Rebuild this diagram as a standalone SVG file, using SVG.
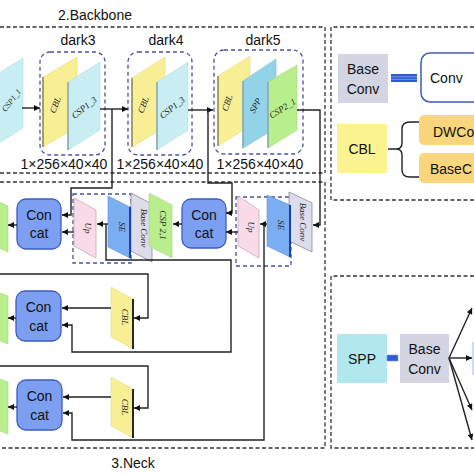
<svg xmlns="http://www.w3.org/2000/svg" width="474" height="474" viewBox="0 0 474 474">
<defs>
<marker id="ah" viewBox="0 0 10 10" refX="10" refY="5" markerWidth="7" markerHeight="6" orient="auto" markerUnits="userSpaceOnUse"><path d="M0,0 L10,5 L0,10 z" fill="#111"/></marker>
<style>
.sec{fill:none;stroke:#333;stroke-width:1.3;stroke-dasharray:4 2.5}
.grp{fill:none;stroke:#4b50a0;stroke-width:1.3;stroke-dasharray:4 3}
.ln{fill:none;stroke:#222;stroke-width:1.4}
.ar{marker-end:url(#ah)}
.t{font-family:"Liberation Sans",Arial,sans-serif;font-size:14px;fill:#111}
.tm{text-anchor:middle}
.pt{font-family:"Liberation Serif","Times New Roman",serif;font-style:italic;font-size:9px;fill:#222;text-anchor:middle}
.yel{fill:#f8ee94;stroke:#e6dc88;stroke-width:0.6}
.cya{fill:#c8eef3;stroke:#b4dde4;stroke-width:0.6}
.spp{fill:#92d3e8;stroke:#7cbcd2;stroke-width:0.6}
.grn{fill:#b8ef8c;stroke:#a2d87a;stroke-width:0.6}
.pnk{fill:#f9dbe7;stroke:#c8aab8;stroke-width:0.8}
.se{fill:#7aaef0;stroke:#5e90d8;stroke-width:0.6}
.bcp{fill:#dcdcea;stroke:#8c8c9c;stroke-width:0.8}
.edgeY{stroke:#8f8a62;stroke-width:1.6}
.edgeC{stroke:#8fa8ae;stroke-width:1.6}
.edgeK{stroke:#111;stroke-width:1.8}
.edgeB{stroke:#1e3fa8;stroke-width:2}
.cc{fill:#7d9ff2;stroke:#3c5cc0;stroke-width:1.3}
</style>
</defs>
<rect width="474" height="474" fill="#fff"/>

<g id="sections">
<path class="sec" d="M0,27 H325 V173 M0,173 H325"/>
<path class="sec" d="M0,182 H325 V448 H0"/>
<path class="sec" d="M474,27 H331 V200 H474"/>
<path class="sec" d="M474,276 H331 V448 H474"/>
<text class="t tm" x="95" y="20">2.Backbone</text>
<text class="t tm" x="133" y="468">3.Neck</text>
</g>

<g id="csp1_1">
<polygon class="cya" points="-12,80 23,58 23,128 -12,150"/>
<text class="pt" style="font-size:8px" transform="translate(13.5,102) rotate(-52)">CSP1_1</text>
</g>

<g id="dark3">
<rect class="grp" x="40" y="52" width="65" height="103" rx="10"/>
<text class="t tm" x="78" y="45">dark3</text>
<polygon class="yel" points="43,77 77,57 77,127 43,147"/>
<line class="edgeY" x1="43" y1="77" x2="43" y2="147"/>
<text class="pt" transform="translate(58,106) rotate(-68)">CBL</text>
<polygon class="cya" points="68,82 100,62 100,130 68,150"/>
<line class="edgeC" x1="68" y1="82" x2="68" y2="150"/>
<text class="pt" transform="translate(86,110) rotate(-38)">CSP1_3</text>
<text class="t tm" x="64" y="169">1×256×40×40</text>
</g>

<g id="dark4">
<rect class="grp" x="128" y="52" width="64" height="103" rx="10"/>
<text class="t tm" x="166" y="45">dark4</text>
<polygon class="yel" points="132,78 165,57 165,127 132,147"/>
<line class="edgeY" x1="132" y1="78" x2="132" y2="147"/>
<text class="pt" transform="translate(146,106) rotate(-68)">CBL</text>
<polygon class="cya" points="157,82 188,62 188,130 157,150"/>
<line class="edgeC" x1="157" y1="82" x2="157" y2="150"/>
<text class="pt" transform="translate(174,110) rotate(-38)">CSP1_3</text>
<text class="t tm" x="160" y="169">1×256×40×40</text>
</g>

<g id="dark5">
<rect class="grp" x="214" y="50" width="89" height="104" rx="10"/>
<text class="t tm" x="263" y="45">dark5</text>
<polygon class="yel" points="218,76 250,56 250,126 218,146"/>
<line class="edgeY" x1="218" y1="76" x2="218" y2="146"/>
<text class="pt" transform="translate(230,104) rotate(-70)">CBL</text>
<polygon class="spp" points="243,81 276,59 276,128 243,148"/>
<line class="edgeC" x1="243" y1="81" x2="243" y2="148"/>
<text class="pt" transform="translate(258,107) rotate(-60)">SPP</text>
<polygon class="grn" points="268,82 297,65 297,130 268,148"/>
<line class="edgeC" x1="268" y1="82" x2="268" y2="148"/>
<text class="pt" transform="translate(284,111) rotate(-32)">CSP2_1</text>
<text class="t tm" x="260" y="169">1×256×40×40</text>
</g>

<g id="neck-left-panels">
<polygon class="grn" points="-14,196 8,206 8,252 -14,242"/>
<polygon class="grn" points="-14,288 8,296 8,344 -14,336"/>
<polygon class="grn" points="-14,374 8,382 8,434 -14,426"/>
</g>

<g id="concat1">
<rect class="cc" x="17" y="199" width="44" height="50" rx="9"/>
<text class="t tm" x="39" y="220">Con</text>
<text class="t tm" x="39" y="238">cat</text>
</g>

<g id="up-se-1">
<rect class="grp" x="73" y="194" width="58" height="69"/>
<polygon class="pnk" points="74,198 96,210 96,258 74,246"/>
<text class="pt" transform="translate(85,228) rotate(90)">Up</text>
<polygon class="bcp" points="131,193 152,204 152,262 131,251"/>
<text class="pt" transform="translate(141,228) rotate(90)">Base Conv</text>
<polygon class="se" points="108,196 130,207 130,258 108,247"/>
<line class="edgeB" x1="130" y1="207" x2="130" y2="258"/>
<text class="pt" transform="translate(119,227) rotate(90)">SE</text>
<polygon class="grn" points="149,193 172,205 172,258 149,246"/>
<text class="pt" transform="translate(160,225) rotate(90)">CSP 2,1</text>
</g>

<g id="concat2">
<rect class="cc" x="182" y="199" width="44" height="49" rx="9"/>
<text class="t tm" x="204" y="220">Con</text>
<text class="t tm" x="204" y="238">cat</text>
</g>

<g id="up-se-2">
<rect class="grp" x="236" y="197" width="55" height="69"/>
<polygon class="pnk" points="238,196 259,210 259,258 238,246"/>
<text class="pt" transform="translate(248,227) rotate(90)">Up</text>
<polygon class="bcp" points="289,192 312,203 312,252 289,241"/>
<text class="pt" transform="translate(300,222) rotate(90)">Base Conv</text>
<polygon class="se" points="267,195 290,205 290,257 267,246"/>
<line class="edgeB" x1="290" y1="205" x2="290" y2="257"/>
<text class="pt" transform="translate(278,225) rotate(90)">SE</text>
</g>

<g id="row2">
<rect class="cc" x="16" y="291" width="45" height="50" rx="9"/>
<text class="t tm" x="38.5" y="312">Con</text>
<text class="t tm" x="38.5" y="331">cat</text>
<polygon class="yel" points="111,287 133,299 133,349 111,337"/>
<line class="edgeK" x1="133" y1="299" x2="133" y2="349"/>
<text class="pt" transform="translate(122,317) rotate(90)">CBL</text>
</g>

<g id="row3">
<rect class="cc" x="17" y="380" width="45" height="50" rx="9"/>
<text class="t tm" x="39.5" y="401">Con</text>
<text class="t tm" x="39.5" y="420">cat</text>
<polygon class="yel" points="111,377 133,389 133,438 111,426"/>
<line class="edgeK" x1="133" y1="389" x2="133" y2="438"/>
<text class="pt" transform="translate(122,407) rotate(90)">CBL</text>
</g>

<g id="legend-baseconv">
<rect x="338" y="54" width="50" height="49" fill="#d3d5e3"/>
<text class="t tm" x="363" y="74">Base</text>
<text class="t tm" x="363" y="94">Conv</text>
<rect x="391" y="74" width="26" height="8" fill="#2d5ad6"/>
<line x1="391" y1="76.7" x2="417" y2="76.7" stroke="#8fa8f0" stroke-width="0.8"/>
<line x1="391" y1="79.3" x2="417" y2="79.3" stroke="#8fa8f0" stroke-width="0.8"/>
<rect x="421" y="53" width="70" height="49" rx="9" fill="#fff" stroke="#3a5cc4" stroke-width="1.5"/>
<text class="t" x="430" y="83">Conv</text>
</g>

<g id="legend-cbl">
<rect x="337" y="124" width="50" height="49" fill="#fbf38f"/>
<text class="t tm" x="362" y="154">CBL</text>
<path class="ln" d="M388,149 H396 Q402,149 402,143 V129 Q402,122 410,122 H420 M396,149 Q402,149 402,155 V170 Q402,177 410,177 H420"/>
<rect x="419" y="115" width="70" height="30" rx="5" fill="#f9d57b"/>
<text class="t" x="433" y="137">DWCo</text>
<rect x="419" y="153" width="70" height="30" rx="5" fill="#f9d57b"/>
<text class="t" x="430" y="174">BaseC</text>
</g>

<g id="legend-spp">
<rect x="337" y="334" width="50" height="49" fill="#b1e7ee"/>
<text class="t tm" x="362" y="364">SPP</text>
<rect x="387" y="355" width="11" height="6" fill="#2d5ad6" stroke="#7f9ce8" stroke-width="0.6"/>
<rect x="400" y="334" width="49" height="49" fill="#d3d5e3"/>
<text class="t tm" x="424.5" y="354">Base</text>
<text class="t tm" x="424.5" y="374">Conv</text>
<rect x="472" y="342" width="4" height="33" fill="#cddcf6"/>
</g>

<g id="connectors">
<path class="ln ar" d="M22,108 H40"/>
<path class="ln ar" d="M100,109 H128"/>
<path class="ln ar" d="M188,110 H213"/>
<path class="ln ar" d="M112,109 V188 H71 V215 H62"/>
<path class="ln ar" d="M208,110 V183 H232 V213 H226"/>
<path class="ln ar" d="M297,110 H320 V225 H313"/>
<path class="ln ar" d="M74,232 H62"/>
<path class="ln ar" d="M108,224 H97"/>
<path class="ln ar" d="M106,224 V260 H231 V352 H72 V325 H62"/>
<path class="ln ar" d="M17,225 H8"/>
<path class="ln ar" d="M267,224 H260"/>
<path class="ln ar" d="M264,224 V440 H72 V413 H63"/>
<path class="ln ar" d="M238,232 H226"/>
<path class="ln ar" d="M182,224 H173"/>
<path class="ln ar" d="M0,274 H148 V318 H134"/>
<path class="ln ar" d="M111,308 H62"/>
<path class="ln ar" d="M16,318 H8"/>
<path class="ln ar" d="M0,366 H148 V408 H134"/>
<path class="ln ar" d="M111,397 H63"/>
<path class="ln ar" d="M17,407 H8"/>
<path class="ln ar" d="M449,358 L472,308"/>
<path class="ln ar" d="M449,358 H472"/>
<path class="ln ar" d="M449,358 L472,410"/>
<path class="ln ar" d="M449,358 L472,440"/>
</g>
</svg>
